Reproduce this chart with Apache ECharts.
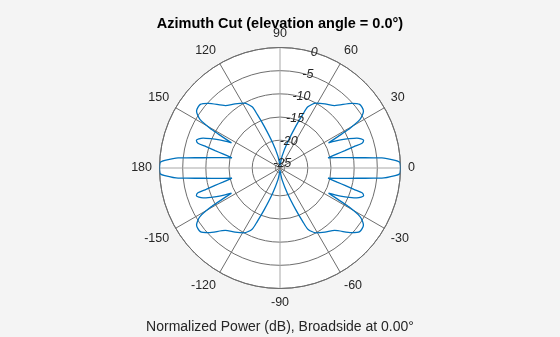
<!DOCTYPE html>
<html><head><meta charset="utf-8">
<script src="https://cdn.jsdelivr.net/npm/echarts@6/dist/echarts.min.js"></script>
<style>html,body{margin:0;padding:0;background:#f4f4f4}#c{width:560px;height:337px}</style>
</head><body><div id="c"></div>
<script>
const titleText = 'Azimuth Cut (elevation angle = 0.0°)';
const footerText = 'Normalized Power (dB), Broadside at 0.00°';
const angleLabels = ['0','30','60','90','120','150','180','-150','-120','-90','-60','-30'];
const radiusLabels = [0,-5,-10,-15,-20,-25];
// one quadrant (0..90 deg) of the pattern; the pattern is symmetric about 0/180 and ±90
const quadAngle = [0, 2.7, 3.8, 5.7, 6.85, 8.5, 10.2, 12.0, 13.9, 15.0, 16.1, 16.8, 18.3, 19.8, 21.3, 23.0, 24.6, 26.0, 27.4, 28.5, 29.35, 31.25, 34.3, 38.6, 42.1, 48.8, 55.0, 61.0, 65.5, 67.0, 69.3, 73.8, 80.0, 85.0, 90.0];
const quadDb    = [0, -0.1, -1.1, -3.9, -7.5, -11.0, -13.4, -15.4, -13.3, -11.5, -9.4, -7.5, -7.0, -7.4, -8.2, -9.8, -11.3, -12.8, -14.2, -11.7, -9.1, -5.8, -4.2, -4.0, -5.2, -8.1, -9.1, -10.0, -11.5, -13.5, -16.4, -20.4, -23.4, -25.0, -25.5];

const pts = [];
for (let i = 0; i < quadAngle.length; i++) pts.push([quadDb[i], quadAngle[i]]);
for (let i = quadAngle.length - 2; i >= 0; i--) pts.push([quadDb[i], 180 - quadAngle[i]]);
for (let i = 1; i < quadAngle.length; i++) pts.push([quadDb[i], 180 + quadAngle[i]]);
for (let i = quadAngle.length - 2; i >= 0; i--) pts.push([quadDb[i], 360 - quadAngle[i]]);

const FONT = 'Liberation Sans, Arial, sans-serif';
const CX = 280, CY = 168, R = 120.5;
const hidden = {axisLine: {show: false}, axisTick: {show: false}, axisLabel: {show: false}, splitLine: {show: false}};
const chart = echarts.init(document.getElementById('c'));
chart.setOption({
  backgroundColor: '#f4f4f4',
  animation: false,
  title: [
    {text: titleText, left: 'center', top: 16.5, padding: 0,
     textStyle: {fontSize: 14.5, fontWeight: 'bold', color: '#000', fontFamily: FONT}},
    {text: footerText, left: 'center', top: 320, padding: 0,
     textStyle: {fontSize: 14, fontWeight: 'normal', color: '#262626', fontFamily: FONT}}
  ],
  polar: [
    {center: [CX, CY], radius: R},
    {center: [CX, CY], radius: R},
    {center: [CX, CY], radius: R}
  ],
  angleAxis: [
    // white plot disc
    Object.assign({polarIndex: 0, type: 'value', min: 0, max: 360, interval: 30, startAngle: 0, clockwise: false, z: 0,
     splitArea: {show: true, areaStyle: {color: ['#ffffff']}}}, hidden),
    // grid spokes + angle labels
    {polarIndex: 1, type: 'value', min: 0, max: 360, interval: 30, startAngle: 0, clockwise: false, z: 1,
     axisLine: {lineStyle: {color: '#6e6e6e', width: 1}},
     axisTick: {show: false},
     axisLabel: {margin: 7.5, color: '#262626', fontSize: 12.5, fontFamily: FONT,
                 formatter: v => (v >= 360 ? '' : angleLabels[Math.round(v / 30)])},
     splitLine: {lineStyle: {color: ['#a8a8a8', '#6e6e6e', '#6e6e6e'], width: 1}},
     splitArea: {show: false}},
    // carrier for the magnitude labels at ~74 deg
    Object.assign({polarIndex: 2, type: 'value', min: 0, max: 360, interval: 30, startAngle: 74, clockwise: false, z: 1,
     splitArea: {show: false}}, hidden)
  ],
  radiusAxis: [
    Object.assign({polarIndex: 0, type: 'value', min: -26, max: 0, z: 0}, hidden),
    {polarIndex: 1, type: 'value', min: -26, max: 0, z: 1,
     axisLine: {show: false}, axisTick: {show: false}, axisLabel: {show: false},
     splitLine: {lineStyle: {color: '#6e6e6e', width: 1}}},
    {polarIndex: 2, type: 'value', min: -26, max: 0, z: 6,
     axisLine: {show: false}, axisTick: {show: false}, splitLine: {show: false},
     axisLabel: {margin: 0, align: 'center', verticalAlign: 'middle', fontStyle: 'italic',
                 padding: [7, 0, 0, 2],
                 color: '#262626', fontSize: 12.5, fontFamily: FONT,
                 formatter: v => (radiusLabels.indexOf(v) >= 0 ? String(v) : '')}}
  ],
  series: [{
    type: 'line', coordinateSystem: 'polar', polarIndex: 1,
    data: pts, showSymbol: false, smooth: 0.25,
    lineStyle: {color: '#0072BD', width: 1.3}, z: 5
  }]
});
</script></body></html>
